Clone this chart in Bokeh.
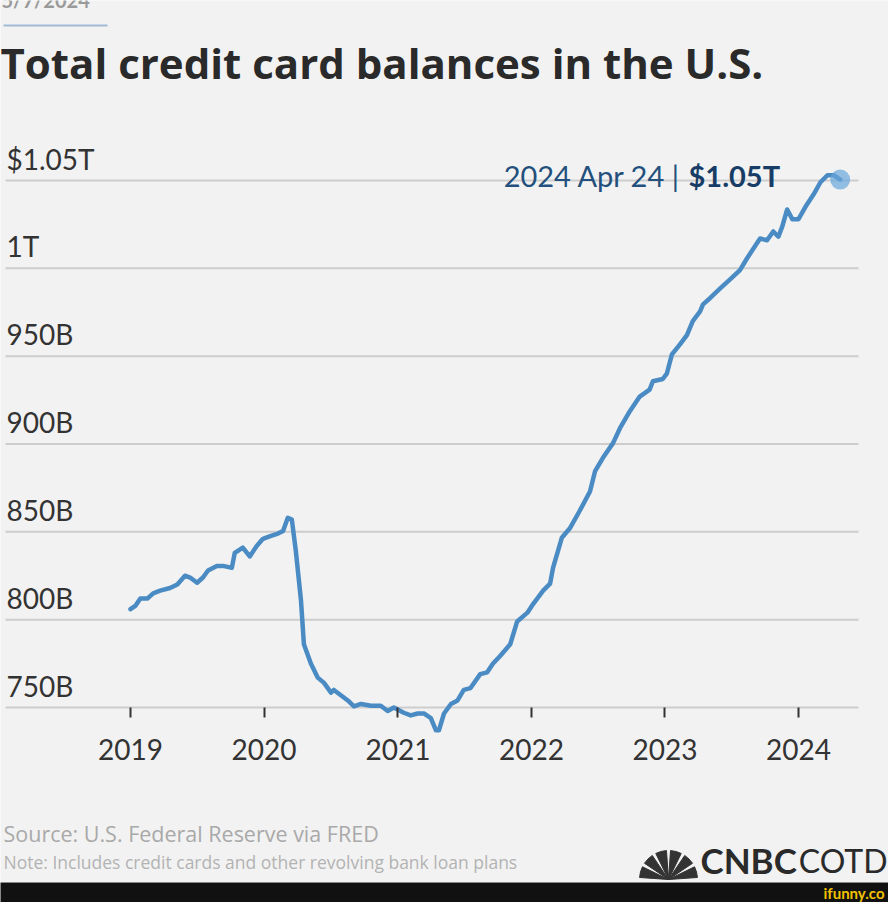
import numpy as np
import pandas as pd
from bokeh.plotting import figure
from bokeh.models import Range1d, FixedTicker, Label, ColumnDataSource
from bokeh.layouts import column
from bokeh.embed import file_html
from bokeh.resources import INLINE
from bokeh.core.properties import value

# ---------------- data (billions of USD) ----------------
dates = [
    "2019-01-01", "2019-01-15", "2019-01-28", "2019-02-16", "2019-03-04", "2019-03-23",
    "2019-04-19", "2019-05-09", "2019-05-30", "2019-06-13", "2019-07-02", "2019-07-18",
    "2019-08-01", "2019-08-25", "2019-09-11", "2019-10-05", "2019-10-13", "2019-11-04",
    "2019-11-23", "2019-12-12", "2019-12-29", "2020-01-20", "2020-02-08", "2020-02-22",
    "2020-03-06", "2020-03-17", "2020-03-28", "2020-04-11", "2020-04-19", "2020-05-08",
    "2020-05-27", "2020-06-13", "2020-07-02", "2020-07-10", "2020-07-29", "2020-08-17",
    "2020-09-03", "2020-09-22", "2020-10-19", "2020-11-15", "2020-12-04", "2020-12-21",
    "2021-01-17", "2021-02-05", "2021-02-24", "2021-03-13", "2021-04-01", "2021-04-15",
    "2021-04-23", "2021-05-07", "2021-05-26", "2021-06-13", "2021-06-30", "2021-07-18",
    "2021-08-14", "2021-09-02", "2021-09-18", "2021-10-08", "2021-11-04", "2021-11-23",
    "2021-12-21", "2022-01-06", "2022-02-02", "2022-02-21", "2022-03-01", "2022-03-25",
    "2022-04-16", "2022-05-13", "2022-06-10", "2022-06-24", "2022-07-15", "2022-08-12",
    "2022-08-31", "2022-09-27", "2022-10-24", "2022-11-20", "2022-11-29", "2022-12-26",
    "2023-01-06", "2023-01-20", "2023-02-11", "2023-03-02", "2023-03-18", "2023-04-07",
    "2023-04-15", "2023-05-04", "2023-06-01", "2023-06-28", "2023-07-25", "2023-08-13",
    "2023-08-30", "2023-09-18", "2023-10-07", "2023-10-24", "2023-11-07", "2023-11-18",
    "2023-12-01", "2023-12-15", "2024-01-01", "2024-01-20", "2024-02-11", "2024-03-01",
    "2024-03-20", "2024-04-06", "2024-04-24",
]
balances_b = [
    806, 808, 812, 812, 815, 816.5,
    818, 820, 825, 824, 821, 824,
    828, 830.6, 830.6, 829.5, 838, 841,
    836, 842, 846, 847.7, 849, 850.5,
    858, 857, 839, 811, 786, 775,
    767, 764, 758.5, 760, 757, 754,
    750.6, 752, 751, 751, 748, 750,
    747, 745.5, 746.6, 746.6, 744, 737,
    737, 746.6, 752, 754, 760, 761,
    769, 770, 775, 779.5, 786, 799,
    804, 809, 816.5, 820.5, 829.5, 846.6,
    852, 862, 873, 884.6, 892, 900.5,
    909, 918.7, 927, 931, 935.7, 937,
    940, 951, 956.7, 962, 970, 975.5,
    979.5, 983, 988.6, 993.7, 999, 1005.6,
    1011, 1017, 1016, 1021, 1018, 1024,
    1033.5, 1028, 1028, 1035, 1042, 1049,
    1053, 1053, 1050.5,
]

y_ticks = [750, 800, 850, 900, 950, 1000, 1050]
y_tick_labels = ["750B", "800B", "850B", "900B", "950B", "1T", "$1.05T"]
x_tick_dates = ["2019-01-01", "2020-01-01", "2021-01-01", "2022-01-01", "2023-01-01", "2024-01-01"]
x_tick_labels = ["2019", "2020", "2021", "2022", "2023", "2024"]

title_text = "Total credit card balances in the U.S."
date_text = "5/7/2024"
callout_date = "2024 Apr 24 |"
callout_value = "$1.05T"
source_text = "Source: U.S. Federal Reserve via FRED"
note_text = "Note: Includes credit cards and other revolving bank loan plans"

# ---------------- layout helpers ----------------
BG = "#f2f2f2"
FONT = "Lato"
WIDE = "Open Sans"
SHIFT = 0.4   # baseline correction factor (fraction of font size)


def ms(s):
    return pd.Timestamp(s).value / 1e6


X0, X1 = ms("2019-01-01"), ms("2024-01-01")
PX0, PX1 = 130, 798          # canvas x of the 2019 and 2024 ticks
PY750, PY1050 = 707, 180     # canvas y of the 750B and 1.05T gridlines


def px2x(px):
    return X0 + (px - PX0) * (X1 - X0) / (PX1 - PX0)


def px2y(py):
    return 750 + (PY750 - py) * (1050 - 750) / (PY750 - PY1050)


def label(px, baseline_py, text, size, font=FONT, style="normal", color="#333333",
          align="left"):
    return Label(x=px2x(px), y=px2y(baseline_py - SHIFT * size), text=text,
                 text_align=align, text_baseline="alphabetic", text_font=font,
                 text_font_size=f"{size}px", text_font_style=style, text_color=color)


p = figure(
    width=888, height=882, x_axis_type="datetime",
    x_range=Range1d(px2x(0), px2x(888)), y_range=Range1d(px2y(882), px2y(0)),
    toolbar_location=None, output_backend="svg",
    min_border_left=0, min_border_right=0, min_border_top=0, min_border_bottom=0,
    background_fill_color=BG, border_fill_color=BG, outline_line_color=None,
)

p.yaxis.visible = False
p.grid.visible = False

# horizontal gridlines (span 5..858 px like the reference)
n_y = len(y_ticks)
p.segment(x0=[px2x(5)] * n_y, x1=[px2x(858)] * n_y, y0=y_ticks, y1=y_ticks,
          line_color="#cdcdcd", line_width=2)

tick_ms = [ms(d) for d in x_tick_dates]
xa = p.xaxis[0]
xa.fixed_location = 750
xa.ticker = FixedTicker(ticks=tick_ms)
xa.major_label_overrides = {t: lab for t, lab in zip(tick_ms, x_tick_labels)}
xa.axis_line_color = None
xa.major_tick_out = 10
xa.major_tick_in = 0
xa.minor_tick_out = 0
xa.minor_tick_in = 0
xa.major_tick_line_width = 2
xa.major_tick_line_color = "#333333"
xa.major_label_text_font = FONT
xa.major_label_text_font_size = "28px"
xa.major_label_text_color = "#333333"
xa.major_label_standoff = 21

# y labels sitting above each gridline
p.text(x=[px2x(5)] * n_y, y=y_ticks, text=y_tick_labels,
       text_font=value(FONT), text_font_size="28px", text_color="#333333",
       text_align="left", text_baseline="alphabetic", x_offset=1, y_offset=-22)

# main series
src = ColumnDataSource(dict(date=pd.to_datetime(dates), bal=balances_b))
p.line(x="date", y="bal", source=src, line_color="#4a8bc4", line_width=4.5,
       line_join="round", line_cap="round")
p.scatter(x=[pd.to_datetime(dates[-1])], y=[balances_b[-1]], size=20,
          fill_color="#6aa7dc", fill_alpha=0.7, line_color=None)

# callout
p.add_layout(label(680, 187, callout_date, 29, color="#23507c", align="right"))
p.add_layout(label(688, 187, callout_value, 29, style="bold", color="#173d66"))

# header
p.add_layout(label(1, 7, date_text, 20, style="bold", color="#9a9a9a"))
p.segment(x0=[px2x(3)], x1=[px2x(107)], y0=[px2y(25)], y1=[px2y(25)],
          line_color="#9fb9d6", line_width=2)
p.add_layout(label(0, 79, title_text, 42, font=WIDE, style="bold", color="#2a2a2a"))

# footer
p.add_layout(label(3, 842, source_text, 21.5, font=WIDE, color="#a9a9a9"))
p.add_layout(label(3, 868, note_text, 17.5, font=WIDE, color="#b3b3b3"))

# logo: simple peacock fan + wordmark
n_feathers = 6
starts = np.linspace(0, np.pi, n_feathers + 1)[:-1]
gap = 0.07
p.wedge(x=[px2x(668)] * n_feathers, y=[px2y(879)] * n_feathers, radius=29,
        radius_units="screen", start_angle=starts + gap,
        end_angle=starts + np.pi / n_feathers - gap, color="#333333")
p.add_layout(label(700, 873, "CNBC", 35, style="bold", color="#2a2a2a"))
p.add_layout(label(887, 873, "COTD", 32, color="#2a2a2a", align="right"))

# bottom watermark band
b = figure(width=888, height=20, x_range=Range1d(0, 888), y_range=Range1d(0, 20),
           toolbar_location=None, output_backend="svg", min_border=0,
           background_fill_color="#111111", border_fill_color="#111111",
           outline_line_color=None)
b.axis.visible = False
b.grid.visible = False
b.add_layout(Label(x=884, y=4 + SHIFT * 15, text="ifunny.co", text_align="right",
                   text_baseline="alphabetic", text_font=FONT, text_font_size="15px",
                   text_font_style="bold", text_color="#f2c200"))

layout = column(p, b, spacing=0)
open("out.html", "w").write(file_html(layout, INLINE))
